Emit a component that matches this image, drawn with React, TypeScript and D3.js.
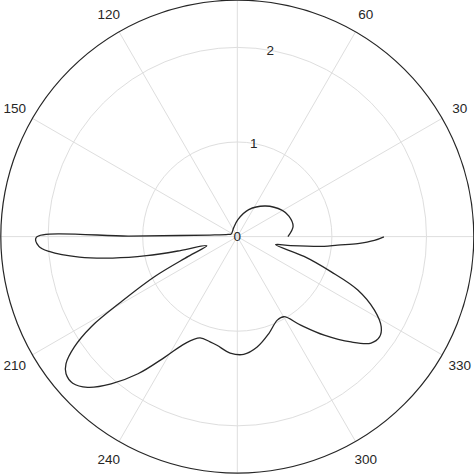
import { useEffect, useRef } from 'react';
import * as d3 from 'd3';

// curve samples: angle in degrees (ccw from east), radius
const thetaDeg = [
  0, 10.5, 21.6, 30.2, 47.3, 67, 88, 113, 156, 167, 176.8, 178.9, 179.7, 180.2,
  182.8, 184.5, 187.4, 189.8, 191.9, 193.8, 196.5,
  202, 205.8, 209.3, 211.7, 214.1, 216.6, 218.7, 221.7, 225.2, 229.4, 234.1, 239, 243.9,
  249.8, 255.5, 259.4, 266.5, 273.1, 280.2, 288, 295.6, 300.2, 305.6, 311.4, 317.2,
  321.5, 324.8, 327.9, 331.8, 336.1, 339.5, 343.5, 348.1,
  350.4, 353.6, 355.2, 356.7, 358.4, 359.9,
];
const radius = [
  0.535, 0.6, 0.587, 0.55, 0.44, 0.31, 0.18, 0.1, 0.07, 0.1, 0.29, 0.61, 1.14, 2.125,
  2.1, 1.996, 1.684, 1.335, 0.98, 0.62, 0.336,
  0.559, 0.969, 1.406, 1.817, 2.08, 2.256, 2.32, 2.33, 2.245, 2.05, 1.79, 1.486, 1.259,
  1.141, 1.15, 1.169, 1.233, 1.247, 1.186, 1.078, 0.979, 0.98, 1.151, 1.389, 1.639,
  1.807, 1.84, 1.796, 1.645, 1.393, 1.056, 0.736, 0.413,
  0.572, 0.924, 1.064, 1.276, 1.45, 1.55,
];

const angleTicks = [0, 30, 60, 90, 120, 150, 180, 210, 240, 270, 300, 330];
const radialTicks = [0, 1, 2];
const rMax = 2.5;

export default function App() {
  const svgRef = useRef<SVGSVGElement>(null);

  useEffect(() => {
    if (!svgRef.current) return;
    const width = 474;
    const height = 474;
    const cx = 237.3;
    const cy = 236.6;
    const outerR = 236.5;

    const svg = d3.select(svgRef.current);
    svg.selectAll('*').remove();
    svg.attr('width', width).attr('height', height);

    const r = d3.scaleLinear().domain([0, rMax]).range([0, outerR]);
    const rad = (deg: number) => (deg * Math.PI) / 180;

    const g = svg.append('g').attr('transform', `translate(${cx},${cy})`);

    // grid rings
    g.selectAll('circle.ring')
      .data(radialTicks.filter((d) => d > 0))
      .join('circle')
      .attr('class', 'ring')
      .attr('r', (d) => r(d))
      .attr('fill', 'none')
      .attr('stroke', '#dedede')
      .attr('stroke-width', 1);

    // spokes
    g.selectAll('line.spoke')
      .data(angleTicks)
      .join('line')
      .attr('class', 'spoke')
      .attr('x1', 0)
      .attr('y1', 0)
      .attr('x2', (d) => outerR * Math.cos(rad(d)))
      .attr('y2', (d) => -outerR * Math.sin(rad(d)))
      .attr('stroke', '#dedede')
      .attr('stroke-width', 1);

    // outer circle
    g.append('circle')
      .attr('r', outerR)
      .attr('fill', 'none')
      .attr('stroke', '#262626')
      .attr('stroke-width', 1.2);

    const font = '"Liberation Sans", Arial, Helvetica, sans-serif';

    // angle labels (the ones on the axes fall outside the window)
    g.selectAll('text.angle')
      .data(angleTicks.filter((d) => d % 90 !== 0))
      .join('text')
      .attr('class', 'angle')
      .attr('x', (d) => (outerR + 20.5) * Math.cos(rad(d)))
      .attr('y', (d) => -(outerR + 20.5) * Math.sin(rad(d)))
      .attr('text-anchor', 'middle')
      .attr('dominant-baseline', 'central')
      .attr('font-family', font)
      .attr('font-size', '13.5px')
      .attr('fill', '#262626')
      .text((d) => String(d));

    // the curve
    const pts: [number, number][] = thetaDeg.map((t, i) => [rad(90 - t), r(radius[i])]);
    const line = d3.lineRadial().curve(d3.curveCatmullRom.alpha(0.5));
    g.append('path')
      .attr('d', line(pts) ?? '')
      .attr('fill', 'none')
      .attr('stroke', '#262626')
      .attr('stroke-width', 1.3)
      .attr('stroke-linejoin', 'round');

    // radial labels along 80 deg
    g.selectAll('text.rtick')
      .data(radialTicks)
      .join('text')
      .attr('class', 'rtick')
      .attr('x', (d) => r(d) * Math.cos(rad(80)))
      .attr('y', (d) => -r(d) * Math.sin(rad(80)))
      .attr('text-anchor', 'middle')
      .attr('dominant-baseline', 'central')
      .attr('font-family', font)
      .attr('font-size', '13.5px')
      .attr('fill', '#262626')
      .text((d) => String(d));
  }, []);

  return (
    <svg
      ref={svgRef}
      style={{ position: 'absolute', left: 0, top: 0, background: '#fff', display: 'block' }}
    />
  );
}
